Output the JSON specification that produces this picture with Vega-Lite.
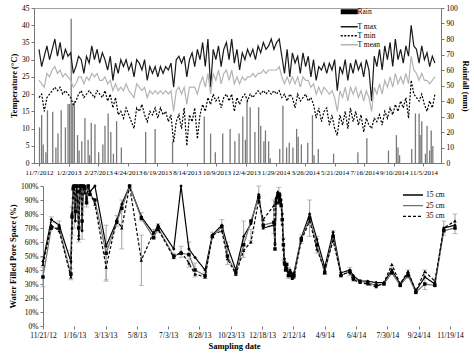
{
 "$schema": "https://vega.github.io/schema/vega-lite/v6.json",
 "padding": {"left": 8, "top": 3, "right": 2, "bottom": 2},
 "config": {
  "font": "Liberation Serif",
  "view": {"stroke": "#a0a0a0", "strokeWidth": 1},
  "axis": {"labelFont": "Liberation Serif", "labelFontSize": 7.5, "labelColor": "#000", "titleFont": "Liberation Serif", "titleFontSize": 8.5, "titleFontWeight": "bold", "titleColor": "#000", "domainColor": "#777", "tickColor": "#777", "tickSize": 3, "grid": false, "labelPadding": 2, "titlePadding": 3},
  "legend": {"labelFont": "Liberation Serif", "labelFontSize": 7.5, "labelColor": "#000", "padding": 0}
 },
 "datasets": {
  "temp": [
   {"d":"2012-11-07","mx":33,"mn":19,"me":24},{"d":"2012-11-12","mx":28,"mn":20,"me":23},{"d":"2012-11-17","mx":31,"mn":15,"me":22},{"d":"2012-11-22","mx":34,"mn":19,"me":26},{"d":"2012-11-27","mx":30,"mn":20,"me":25},
   {"d":"2012-12-02","mx":33,"mn":21,"me":27},{"d":"2012-12-07","mx":36,"mn":22,"me":28},{"d":"2012-12-12","mx":31,"mn":21,"me":26},{"d":"2012-12-17","mx":35,"mn":22,"me":27},{"d":"2012-12-22","mx":30,"mn":20,"me":25},{"d":"2012-12-27","mx":33,"mn":21,"me":26},
   {"d":"2013-01-01","mx":31,"mn":20,"me":25},{"d":"2013-01-06","mx":32,"mn":19,"me":24},{"d":"2013-01-11","mx":26,"mn":17,"me":22},{"d":"2013-01-16","mx":28,"mn":18,"me":23},{"d":"2013-01-21","mx":31,"mn":20,"me":25},{"d":"2013-01-26","mx":30,"mn":21,"me":25},{"d":"2013-01-31","mx":26,"mn":19,"me":23},
   {"d":"2013-02-05","mx":31,"mn":20,"me":25},{"d":"2013-02-10","mx":29,"mn":21,"me":24},{"d":"2013-02-15","mx":34,"mn":20,"me":26},{"d":"2013-02-20","mx":30,"mn":19,"me":25},{"d":"2013-02-25","mx":33,"mn":21,"me":26},
   {"d":"2013-03-02","mx":29,"mn":20,"me":24},{"d":"2013-03-07","mx":32,"mn":19,"me":24},{"d":"2013-03-12","mx":30,"mn":21,"me":25},{"d":"2013-03-17","mx":27,"mn":18,"me":23},{"d":"2013-03-22","mx":31,"mn":20,"me":24},{"d":"2013-03-27","mx":24,"mn":16,"me":21},
   {"d":"2013-04-01","mx":29,"mn":19,"me":23},{"d":"2013-04-06","mx":26,"mn":14,"me":21},{"d":"2013-04-11","mx":30,"mn":15,"me":22},{"d":"2013-04-16","mx":28,"mn":13,"me":21},{"d":"2013-04-21","mx":30,"mn":16,"me":23},{"d":"2013-04-26","mx":27,"mn":14,"me":21},
   {"d":"2013-05-01","mx":29,"mn":12,"me":20},{"d":"2013-05-06","mx":25,"mn":10,"me":19},{"d":"2013-05-11","mx":30,"mn":16,"me":23},{"d":"2013-05-16","mx":29,"mn":15,"me":22},{"d":"2013-05-21","mx":27,"mn":17,"me":21},{"d":"2013-05-26","mx":30,"mn":14,"me":22},{"d":"2013-05-31","mx":24,"mn":12,"me":19},
   {"d":"2013-06-05","mx":28,"mn":15,"me":21},{"d":"2013-06-10","mx":26,"mn":14,"me":20},{"d":"2013-06-15","mx":28,"mn":16,"me":21},{"d":"2013-06-20","mx":25,"mn":13,"me":20},{"d":"2013-06-25","mx":28,"mn":16,"me":21},{"d":"2013-06-30","mx":26,"mn":14,"me":20},
   {"d":"2013-07-05","mx":28,"mn":15,"me":21},{"d":"2013-07-10","mx":27,"mn":12,"me":20},{"d":"2013-07-15","mx":29,"mn":14,"me":21},{"d":"2013-07-20","mx":22,"mn":6,"me":15},{"d":"2013-07-25","mx":30,"mn":12,"me":21},{"d":"2013-07-30","mx":31,"mn":14,"me":22},
   {"d":"2013-08-04","mx":29,"mn":10,"me":20},{"d":"2013-08-09","mx":31,"mn":16,"me":22},{"d":"2013-08-14","mx":25,"mn":5,"me":17},{"d":"2013-08-19","mx":30,"mn":14,"me":22},{"d":"2013-08-24","mx":32,"mn":12,"me":22},{"d":"2013-08-29","mx":28,"mn":16,"me":22},
   {"d":"2013-09-03","mx":33,"mn":7,"me":20},{"d":"2013-09-08","mx":30,"mn":14,"me":23},{"d":"2013-09-13","mx":35,"mn":17,"me":25},{"d":"2013-09-18","mx":28,"mn":15,"me":22},{"d":"2013-09-23","mx":36,"mn":19,"me":26},{"d":"2013-09-28","mx":22,"mn":17,"me":20},
   {"d":"2013-10-03","mx":33,"mn":20,"me":26},{"d":"2013-10-08","mx":30,"mn":18,"me":24},{"d":"2013-10-13","mx":34,"mn":19,"me":27},{"d":"2013-10-18","mx":28,"mn":16,"me":23},{"d":"2013-10-23","mx":33,"mn":19,"me":26},{"d":"2013-10-28","mx":35,"mn":20,"me":27},
   {"d":"2013-11-02","mx":30,"mn":18,"me":24},{"d":"2013-11-07","mx":36,"mn":20,"me":27},{"d":"2013-11-12","mx":29,"mn":15,"me":23},{"d":"2013-11-17","mx":33,"mn":19,"me":25},{"d":"2013-11-22","mx":27,"mn":17,"me":23},{"d":"2013-11-27","mx":32,"mn":19,"me":25},
   {"d":"2013-12-02","mx":30,"mn":20,"me":24},{"d":"2013-12-07","mx":33,"mn":18,"me":25},{"d":"2013-12-12","mx":31,"mn":20,"me":25},{"d":"2013-12-17","mx":33,"mn":19,"me":26},{"d":"2013-12-22","mx":30,"mn":20,"me":25},{"d":"2013-12-27","mx":34,"mn":21,"me":26},
   {"d":"2014-01-01","mx":32,"mn":20,"me":26},{"d":"2014-01-06","mx":35,"mn":21,"me":27},{"d":"2014-01-11","mx":33,"mn":20,"me":26},{"d":"2014-01-16","mx":34,"mn":21,"me":27},{"d":"2014-01-21","mx":36,"mn":20,"me":27},{"d":"2014-01-26","mx":33,"mn":21,"me":27},{"d":"2014-01-31","mx":35,"mn":20,"me":27},
   {"d":"2014-02-05","mx":36,"mn":21,"me":28},{"d":"2014-02-10","mx":31,"mn":19,"me":25},{"d":"2014-02-15","mx":26,"mn":20,"me":23},{"d":"2014-02-20","mx":33,"mn":18,"me":25},{"d":"2014-02-25","mx":25,"mn":20,"me":23},
   {"d":"2014-03-02","mx":32,"mn":19,"me":25},{"d":"2014-03-07","mx":29,"mn":16,"me":23},{"d":"2014-03-12","mx":31,"mn":20,"me":25},{"d":"2014-03-17","mx":26,"mn":18,"me":22},{"d":"2014-03-22","mx":32,"mn":19,"me":25},{"d":"2014-03-27","mx":28,"mn":20,"me":24},
   {"d":"2014-04-01","mx":31,"mn":18,"me":24},{"d":"2014-04-06","mx":25,"mn":19,"me":22},{"d":"2014-04-11","mx":30,"mn":17,"me":23},{"d":"2014-04-16","mx":24,"mn":13,"me":20},{"d":"2014-04-21","mx":28,"mn":16,"me":22},{"d":"2014-04-26","mx":27,"mn":12,"me":20},
   {"d":"2014-05-01","mx":29,"mn":15,"me":22},{"d":"2014-05-06","mx":26,"mn":16,"me":21},{"d":"2014-05-11","mx":29,"mn":11,"me":20},{"d":"2014-05-16","mx":27,"mn":14,"me":21},{"d":"2014-05-21","mx":30,"mn":10,"me":19},{"d":"2014-05-26","mx":21,"mn":8,"me":15},{"d":"2014-05-31","mx":28,"mn":14,"me":21},
   {"d":"2014-06-05","mx":26,"mn":11,"me":19},{"d":"2014-06-10","mx":30,"mn":15,"me":22},{"d":"2014-06-15","mx":24,"mn":10,"me":18},{"d":"2014-06-20","mx":29,"mn":16,"me":22},{"d":"2014-06-25","mx":26,"mn":12,"me":20},{"d":"2014-06-30","mx":30,"mn":15,"me":22},
   {"d":"2014-07-05","mx":27,"mn":11,"me":19},{"d":"2014-07-10","mx":29,"mn":14,"me":21},{"d":"2014-07-15","mx":25,"mn":9,"me":18},{"d":"2014-07-20","mx":30,"mn":13,"me":21},{"d":"2014-07-25","mx":27,"mn":11,"me":19},{"d":"2014-07-30","mx":18,"mn":10,"me":15},
   {"d":"2014-08-04","mx":31,"mn":13,"me":22},{"d":"2014-08-09","mx":28,"mn":12,"me":20},{"d":"2014-08-14","mx":33,"mn":14,"me":23},{"d":"2014-08-19","mx":27,"mn":11,"me":20},{"d":"2014-08-24","mx":34,"mn":15,"me":24},{"d":"2014-08-29","mx":30,"mn":13,"me":22},
   {"d":"2014-09-03","mx":35,"mn":16,"me":25},{"d":"2014-09-08","mx":28,"mn":14,"me":22},{"d":"2014-09-13","mx":36,"mn":17,"me":26},{"d":"2014-09-18","mx":30,"mn":15,"me":23},{"d":"2014-09-23","mx":33,"mn":18,"me":25},{"d":"2014-09-28","mx":29,"mn":16,"me":23},
   {"d":"2014-10-03","mx":34,"mn":19,"me":26},{"d":"2014-10-08","mx":31,"mn":13,"me":23},{"d":"2014-10-13","mx":40,"mn":24,"me":31},{"d":"2014-10-18","mx":34,"mn":20,"me":27},{"d":"2014-10-23","mx":33,"mn":19,"me":26},{"d":"2014-10-28","mx":29,"mn":18,"me":24},
   {"d":"2014-11-02","mx":34,"mn":20,"me":26},{"d":"2014-11-07","mx":30,"mn":17,"me":24},{"d":"2014-11-12","mx":32,"mn":15,"me":24},{"d":"2014-11-17","mx":28,"mn":18,"me":23},{"d":"2014-11-22","mx":31,"mn":16,"me":24},{"d":"2014-11-27","mx":29,"mn":20,"me":25}
  ],
  "rain": [
   {"d":"2012-11-08","r":23},{"d":"2012-11-12","r":31},{"d":"2012-11-15","r":12},{"d":"2012-11-20","r":7},{"d":"2012-11-23","r":34},{"d":"2012-12-03","r":33},{"d":"2012-12-09","r":10},{"d":"2012-12-13","r":19},{"d":"2012-12-19","r":34},{"d":"2012-12-27","r":23},
   {"d":"2013-01-01","r":38},{"d":"2013-01-04","r":38},{"d":"2013-01-07","r":93},{"d":"2013-01-10","r":38},{"d":"2013-01-13","r":40},{"d":"2013-01-19","r":18},{"d":"2013-01-22","r":8},{"d":"2013-01-27","r":14},{"d":"2013-02-02","r":29},{"d":"2013-02-08","r":15},{"d":"2013-02-11","r":5},{"d":"2013-02-14","r":26},{"d":"2013-02-21","r":25},{"d":"2013-02-28","r":7},
   {"d":"2013-03-08","r":12},{"d":"2013-03-12","r":24},{"d":"2013-03-18","r":32},{"d":"2013-03-23","r":20},{"d":"2013-03-28","r":6},{"d":"2013-04-03","r":27},{"d":"2013-04-12","r":10},{"d":"2013-05-28","r":20},{"d":"2013-06-15","r":22},{"d":"2013-07-18","r":14},
   {"d":"2013-09-16","r":30},{"d":"2013-09-28","r":19},{"d":"2013-10-07","r":7},{"d":"2013-10-21","r":19},{"d":"2013-11-04","r":22},{"d":"2013-11-13","r":14},{"d":"2013-11-21","r":19},{"d":"2013-11-28","r":30},{"d":"2013-12-03","r":15},{"d":"2013-12-06","r":40},{"d":"2013-12-12","r":36},{"d":"2013-12-21","r":20},{"d":"2013-12-28","r":36},
   {"d":"2014-01-01","r":24},{"d":"2014-01-07","r":14},{"d":"2014-01-10","r":21},{"d":"2014-01-16","r":14},{"d":"2014-01-19","r":3},{"d":"2014-02-06","r":9},{"d":"2014-02-12","r":37},{"d":"2014-02-19","r":10},{"d":"2014-02-24","r":13},{"d":"2014-03-03","r":10},{"d":"2014-03-10","r":22},{"d":"2014-03-13","r":17},{"d":"2014-03-19","r":12},{"d":"2014-03-31","r":13},
   {"d":"2014-04-09","r":31},{"d":"2014-04-12","r":5},{"d":"2014-04-20","r":9},{"d":"2014-05-19","r":6},{"d":"2014-07-04","r":7},{"d":"2014-07-21","r":16},{"d":"2014-08-31","r":8},{"d":"2014-09-15","r":18},{"d":"2014-09-18","r":10},{"d":"2014-09-21","r":5},
   {"d":"2014-10-14","r":9},{"d":"2014-10-21","r":32},{"d":"2014-10-28","r":32},{"d":"2014-10-30","r":18},{"d":"2014-11-02","r":27},{"d":"2014-11-09","r":6},{"d":"2014-11-12","r":24},{"d":"2014-11-17","r":8},{"d":"2014-11-20","r":21},{"d":"2014-11-23","r":11}
  ],
  "wfps": [
   {"t":"2012-11-21","a":46,"b":35,"c":44},{"t":"2012-12-06","a":76,"b":70,"c":72},{"t":"2012-12-20","a":72,"b":70,"c":68},{"t":"2013-01-10","a":46,"b":37,"c":35},
   {"t":"2013-01-12","a":80,"b":78,"c":70},{"t":"2013-01-14","a":100,"b":98,"c":92},{"t":"2013-01-16","a":100,"b":100,"c":100},{"t":"2013-01-18","a":75,"b":82,"c":85},{"t":"2013-01-20","a":100,"b":100,"c":100},{"t":"2013-01-22","a":100,"b":96,"c":90},{"t":"2013-01-24","a":62,"b":70,"c":65},{"t":"2013-01-26","a":100,"b":100,"c":97},{"t":"2013-01-28","a":100,"b":100,"c":100},{"t":"2013-01-30","a":68,"b":75,"c":80},{"t":"2013-02-01","a":100,"b":100,"c":100},{"t":"2013-02-04","a":100,"b":98,"c":95},{"t":"2013-02-07","a":90,"b":88,"c":92},{"t":"2013-02-10","a":100,"b":100,"c":100},{"t":"2013-02-13","a":96,"b":94,"c":95},
   {"t":"2013-02-22","a":100,"b":90,"c":87},{"t":"2013-03-14","a":57,"b":52,"c":42},{"t":"2013-04-02","a":75,"b":74,"c":76},{"t":"2013-04-11","a":87,"b":84,"c":70},{"t":"2013-04-25","a":100,"b":100,"c":100},{"t":"2013-05-16","a":78,"b":77,"c":47},{"t":"2013-06-07","a":66,"b":63,"c":67},{"t":"2013-06-15","a":72,"b":70,"c":69},
   {"t":"2013-07-13","a":55,"b":50,"c":49},{"t":"2013-07-26","a":100,"b":52,"c":53},{"t":"2013-08-09","a":55,"b":51,"c":45},{"t":"2013-08-20","a":49,"b":40,"c":37},{"t":"2013-09-07","a":40,"b":36,"c":35},{"t":"2013-09-20","a":65,"b":64,"c":65},{"t":"2013-10-07","a":72,"b":71,"c":68},{"t":"2013-10-17","a":57,"b":50,"c":48},
   {"t":"2013-11-01","a":40,"b":38,"c":37},{"t":"2013-11-15","a":64,"b":58,"c":54},{"t":"2013-11-28","a":73,"b":75,"c":60},{"t":"2013-12-12","a":94,"b":92,"c":90},{"t":"2013-12-20","a":70,"b":72,"c":76},
   {"t":"2014-01-08","a":72,"b":74,"c":86},{"t":"2014-01-10","a":58,"b":55,"c":60},{"t":"2014-01-12","a":90,"b":88,"c":92},{"t":"2014-01-15","a":95,"b":93,"c":96},{"t":"2014-01-17","a":88,"b":92,"c":94},{"t":"2014-01-19","a":93,"b":90,"c":95},{"t":"2014-01-21","a":90,"b":86,"c":88},{"t":"2014-01-23","a":80,"b":76,"c":73},{"t":"2014-01-25","a":62,"b":58,"c":55},{"t":"2014-01-27","a":48,"b":45,"c":44},{"t":"2014-01-29","a":42,"b":40,"c":41},{"t":"2014-01-31","a":40,"b":44,"c":42},{"t":"2014-02-03","a":38,"b":36,"c":37},{"t":"2014-02-06","a":40,"b":38,"c":36},{"t":"2014-02-10","a":37,"b":35,"c":34},{"t":"2014-02-13","a":38,"b":36,"c":35},
   {"t":"2014-02-26","a":63,"b":62,"c":61},{"t":"2014-03-13","a":80,"b":77,"c":75},{"t":"2014-03-26","a":62,"b":58,"c":55},{"t":"2014-04-09","a":42,"b":38,"c":40},{"t":"2014-04-24","a":67,"b":64,"c":61},{"t":"2014-05-08","a":38,"b":36,"c":37},{"t":"2014-05-24","a":40,"b":39,"c":38},{"t":"2014-05-30","a":36,"b":34,"c":33},
   {"t":"2014-06-11","a":32,"b":32,"c":31},{"t":"2014-06-25","a":32,"b":31,"c":30},{"t":"2014-07-10","a":31,"b":29,"c":28},{"t":"2014-07-24","a":31,"b":30,"c":31},{"t":"2014-08-07","a":40,"b":38,"c":44},{"t":"2014-08-22","a":30,"b":29,"c":30},{"t":"2014-09-05","a":38,"b":36,"c":39},{"t":"2014-09-19","a":25,"b":24,"c":25},{"t":"2014-10-05","a":35,"b":30,"c":39},{"t":"2014-10-23","a":30,"b":29,"c":32},{"t":"2014-11-08","a":70,"b":68,"c":70},{"t":"2014-11-28","a":72,"b":70,"c":75}
  ],
  "err": [
   {"t":"2012-11-21","v":35,"e":7},{"t":"2012-11-21","v":46,"e":3},{"t":"2012-12-06","v":76,"e":2},{"t":"2012-12-20","v":72,"e":3},{"t":"2013-01-10","v":37,"e":4},{"t":"2013-01-10","v":46,"e":8},
   {"t":"2013-01-12","v":75,"e":10},{"t":"2013-01-16","v":85,"e":15},{"t":"2013-01-22","v":90,"e":10},{"t":"2013-01-24","v":66,"e":6},{"t":"2013-01-30","v":72,"e":10},{"t":"2013-02-07","v":90,"e":5},
   {"t":"2013-03-14","v":52,"e":20},{"t":"2013-03-14","v":42,"e":9},{"t":"2013-04-02","v":75,"e":4},{"t":"2013-04-11","v":70,"e":15},{"t":"2013-04-11","v":87,"e":3},{"t":"2013-05-16","v":47,"e":18},{"t":"2013-05-16","v":78,"e":3},
   {"t":"2013-06-07","v":66,"e":3},{"t":"2013-06-15","v":70,"e":3},{"t":"2013-07-13","v":50,"e":2},{"t":"2013-07-26","v":53,"e":4},{"t":"2013-08-09","v":55,"e":5},{"t":"2013-08-09","v":45,"e":3},{"t":"2013-08-20","v":40,"e":5},{"t":"2013-09-07","v":36,"e":2},{"t":"2013-09-20","v":65,"e":2},
   {"t":"2013-10-07","v":72,"e":4},{"t":"2013-10-17","v":52,"e":8},{"t":"2013-11-01","v":38,"e":2},{"t":"2013-11-15","v":62,"e":13},{"t":"2013-11-28","v":65,"e":4},{"t":"2013-12-12","v":94,"e":6},{"t":"2013-12-20","v":72,"e":3},
   {"t":"2014-01-08","v":78,"e":12},{"t":"2014-01-17","v":93,"e":6},{"t":"2014-01-25","v":55,"e":8},{"t":"2014-02-03","v":38,"e":4},{"t":"2014-02-26","v":62,"e":3},{"t":"2014-03-13","v":77,"e":13},{"t":"2014-03-26","v":58,"e":6},{"t":"2014-04-09","v":40,"e":3},{"t":"2014-04-24","v":64,"e":4},
   {"t":"2014-05-24","v":39,"e":3},{"t":"2014-08-07","v":40,"e":3},{"t":"2014-09-05","v":37,"e":3},{"t":"2014-10-05","v":33,"e":7},{"t":"2014-11-08","v":70,"e":5},{"t":"2014-11-28","v":73,"e":7}
  ]
 },
 "spacing": 6,
 "resolve": {
  "scale": {"color": "independent", "strokeDash": "independent", "shape": "independent"},
  "legend": {"color": "independent", "strokeDash": "independent", "shape": "independent"}
 },
 "vconcat": [
  {
   "width": 407,
   "height": 155,
   "encoding": {
    "x": {"field": "d", "type": "temporal",
     "scale": {"type": "utc", "domain": [{"year": 2012, "month": 11, "date": 7, "utc": true}, {"year": 2014, "month": 11, "date": 29, "utc": true}]},
     "axis": {"title": null, "labelExpr": "utcFormat(datum.value, '%-m/%-d/%Y')", "labelFontSize": 7, "labelOverlap": false, "labelFlush": false,
      "values": [{"year":2012,"month":11,"date":7,"utc":true},{"year":2013,"month":1,"date":2,"utc":true},{"year":2013,"month":2,"date":27,"utc":true},{"year":2013,"month":4,"date":24,"utc":true},{"year":2013,"month":6,"date":19,"utc":true},{"year":2013,"month":8,"date":14,"utc":true},{"year":2013,"month":10,"date":9,"utc":true},{"year":2013,"month":12,"date":4,"utc":true},{"year":2014,"month":1,"date":29,"utc":true},{"year":2014,"month":3,"date":26,"utc":true},{"year":2014,"month":5,"date":21,"utc":true},{"year":2014,"month":7,"date":16,"utc":true},{"year":2014,"month":9,"date":10,"utc":true},{"year":2014,"month":11,"date":5,"utc":true}]}}
   },
   "layer": [
    {
     "data": {"name": "rain"},
     "mark": {"type": "bar", "width": 1.3, "color": "#7a7a7a"},
     "encoding": {
      "y": {"field": "r", "type": "quantitative", "scale": {"domain": [0, 100]},
       "axis": {"orient": "right", "title": "Rainfall (mm)", "values": [0,10,20,30,40,50,60,70,80,90,100]}}
     }
    },
    {
     "encoding": {
      "y": {"field": "v", "type": "quantitative", "scale": {"domain": [0, 45]},
       "axis": {"title": "Temperature (°C)", "values": [0,5,10,15,20,25,30,35,40,45]}}
     },
     "layer": [
      {
       "data": {"name": "temp"},
       "transform": [{"fold": ["mx", "mn", "me"], "as": ["k", "v"]}],
       "mark": {"type": "line", "strokeWidth": 1.2},
       "encoding": {
        "color": {"field": "k", "type": "nominal",
         "scale": {"domain": ["rain", "mx", "mn", "me"], "range": ["#000000", "#1a1a1a", "#000000", "#b4b4b4"]},
         "legend": {"title": null, "orient": "none", "legendX": 311.5, "legendY": 0, "symbolType": "M-1.42,0H1.42", "symbolSize": 144, "rowPadding": 0, "labelOffset": 4.5,
          "labelExpr": "datum.label == 'rain' ? 'Rain' : datum.label == 'mx' ? 'T max' : datum.label == 'mn' ? 'T min' : 'T mean'",
          "encode": {"symbols": {"update": {"strokeWidth": {"signal": "datum.value == 'rain' ? 5 : 1.3"}}}}}},
        "strokeDash": {"field": "k", "type": "nominal",
         "scale": {"domain": ["rain", "mx", "mn", "me"], "range": [[1, 0], [1, 0], [2, 1.5], [1, 0]]},
         "legend": {"title": null, "orient": "none", "legendX": 311.5, "legendY": 0, "symbolType": "M-1.42,0H1.42", "symbolSize": 144, "rowPadding": 0, "labelOffset": 4.5,
          "labelExpr": "datum.label == 'rain' ? 'Rain' : datum.label == 'mx' ? 'T max' : datum.label == 'mn' ? 'T min' : 'T mean'",
          "encode": {"symbols": {"update": {"strokeWidth": {"signal": "datum.value == 'rain' ? 5 : 1.3"}}}}}}
       }
      },
      {
       "data": {"values": [{}]},
       "mark": {"type": "text", "text": "(a)", "fontSize": 8, "font": "Liberation Serif"},
       "encoding": {
        "x": {"datum": {"year": 2012, "month": 12, "date": 6, "utc": true}, "type": "temporal"},
        "y": {"datum": 42, "type": "quantitative"}
       }
      }
     ]
    }
   ],
   "resolve": {"scale": {"y": "independent"}}
  },
  {
   "width": 421,
   "height": 140,
   "view": {"stroke": null},
   "encoding": {
    "x": {"field": "t", "type": "temporal",
     "scale": {"type": "utc", "domain": [{"year": 2012, "month": 11, "date": 5, "utc": true}, {"year": 2014, "month": 11, "date": 28, "utc": true}]},
     "axis": {"title": "Sampling date", "domain": false, "labelExpr": "utcFormat(datum.value, '%-m/%-d/%y')", "labelOverlap": false, "labelFlush": false, "titleX": 200,
      "values": [{"year":2012,"month":11,"date":21,"utc":true},{"year":2013,"month":1,"date":16,"utc":true},{"year":2013,"month":3,"date":13,"utc":true},{"year":2013,"month":5,"date":8,"utc":true},{"year":2013,"month":7,"date":3,"utc":true},{"year":2013,"month":8,"date":28,"utc":true},{"year":2013,"month":10,"date":23,"utc":true},{"year":2013,"month":12,"date":18,"utc":true},{"year":2014,"month":2,"date":12,"utc":true},{"year":2014,"month":4,"date":9,"utc":true},{"year":2014,"month":6,"date":4,"utc":true},{"year":2014,"month":7,"date":30,"utc":true},{"year":2014,"month":9,"date":24,"utc":true},{"year":2014,"month":11,"date":19,"utc":true}]}},
    "y": {"field": "v", "type": "quantitative", "scale": {"domain": [0, 100]},
     "axis": {"title": "Water Filled Pore Space (%)", "offset": -9, "values": [0,10,20,30,40,50,60,70,80,90,100], "labelExpr": "datum.value + '%'"}}
   },
   "layer": [
    {
     "data": {"values": [{}]},
     "mark": {"type": "rule", "color": "#a0a0a0", "strokeWidth": 1},
     "encoding": {
      "x": {"datum": {"year": 2012, "month": 11, "date": 21, "utc": true}, "type": "temporal"},
      "x2": {"datum": {"year": 2014, "month": 11, "date": 28, "utc": true}},
      "y": {"datum": 100, "type": "quantitative"}
     }
    },
    {
     "data": {"values": [{}]},
     "mark": {"type": "rule", "color": "#777777", "strokeWidth": 1},
     "encoding": {
      "x": {"datum": {"year": 2012, "month": 11, "date": 21, "utc": true}, "type": "temporal"},
      "x2": {"datum": {"year": 2014, "month": 11, "date": 28, "utc": true}},
      "y": {"datum": 0, "type": "quantitative"}
     }
    },
    {
     "data": {"values": [{}]},
     "mark": {"type": "rule", "color": "#a0a0a0", "strokeWidth": 1},
     "encoding": {
      "x": {"datum": {"year": 2014, "month": 11, "date": 28, "utc": true}, "type": "temporal"},
      "y": {"datum": 0, "type": "quantitative"},
      "y2": {"datum": 100}
     }
    },
    {
     "data": {"name": "err"},
     "mark": {"type": "errorbar", "ticks": true, "color": "#a0a0a0"},
     "encoding": {"yError": {"field": "e"}}
    },
    {
     "data": {"name": "wfps"},
     "transform": [{"fold": ["a", "b", "c"], "as": ["s", "v"]}],
     "mark": {"type": "line", "strokeWidth": 1.2},
     "encoding": {
      "color": {"field": "s", "type": "nominal",
       "scale": {"domain": ["a", "b", "c"], "range": ["#000000", "#707070", "#000000"]},
       "legend": {"title": null, "orient": "none", "legendX": 372.5, "legendY": 2.5, "symbolType": "M-1.82,0H1.82", "symbolSize": 121, "symbolStrokeWidth": 1.3, "rowPadding": 0.7, "labelOffset": 6.5,
        "labelExpr": "datum.label == 'a' ? '15 cm' : datum.label == 'b' ? '25 cm' : '35 cm'"}},
      "strokeDash": {"field": "s", "type": "nominal",
       "scale": {"domain": ["a", "b", "c"], "range": [[1, 0], [1, 0], [3, 2]]},
       "legend": {"title": null, "orient": "none", "legendX": 372.5, "legendY": 2.5, "symbolType": "M-1.82,0H1.82", "symbolSize": 121, "symbolStrokeWidth": 1.3, "rowPadding": 0.7, "labelOffset": 6.5,
        "labelExpr": "datum.label == 'a' ? '15 cm' : datum.label == 'b' ? '25 cm' : '35 cm'"}}
     }
    },
    {
     "data": {"name": "wfps"},
     "transform": [{"fold": ["a", "b", "c"], "as": ["p", "v"]}],
     "mark": {"type": "point", "filled": true, "size": 12, "color": "#000", "opacity": 1},
     "encoding": {
      "shape": {"field": "p", "type": "nominal",
       "scale": {"range": ["diamond", "square", "triangle-up"]}, "legend": null}
     }
    },
    {
     "data": {"values": [{}]},
     "mark": {"type": "text", "text": "(b)", "fontSize": 8, "font": "Liberation Serif"},
     "encoding": {
      "x": {"datum": {"year": 2012, "month": 12, "date": 20, "utc": true}, "type": "temporal"},
      "y": {"datum": 90, "type": "quantitative"}
     }
    }
   ]
  }
 ]
}
